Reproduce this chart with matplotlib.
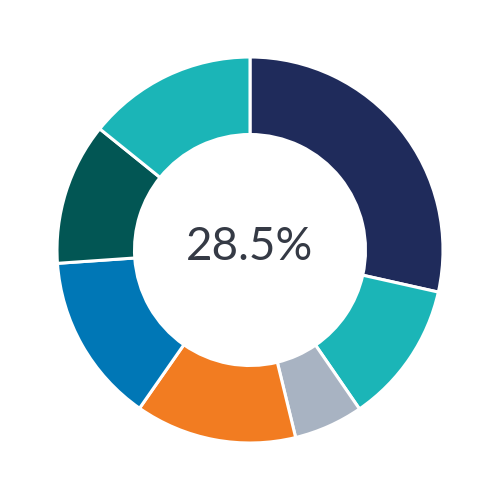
import matplotlib.pyplot as plt

# slice shares (percent), clockwise from 12 o'clock
values = [28.5, 11.9, 5.8, 13.5, 14.2, 11.9, 14.2]
colors = ['#1f2b5b', '#1bb5b7', '#a8b3c2', '#f27c21', '#0077b6', '#025654', '#1bb5b7']
center_label = '28.5%'

fig = plt.figure(figsize=(5, 5), dpi=100)
ax = fig.add_axes([0, 0, 1, 1])

ax.pie(values, colors=colors, startangle=90, counterclock=False, radius=0.772,
       wedgeprops=dict(width=0.31, edgecolor='white', linewidth=2.2))

ax.text(0, 0.01, center_label, ha='center', va='center', fontsize=33,
        family='Lato', color='#353a45')

ax.set_xlim(-1, 1)
ax.set_ylim(-1, 1)
ax.set_aspect('equal')
ax.axis('off')

fig.savefig('out.png', dpi=100, facecolor='white')
